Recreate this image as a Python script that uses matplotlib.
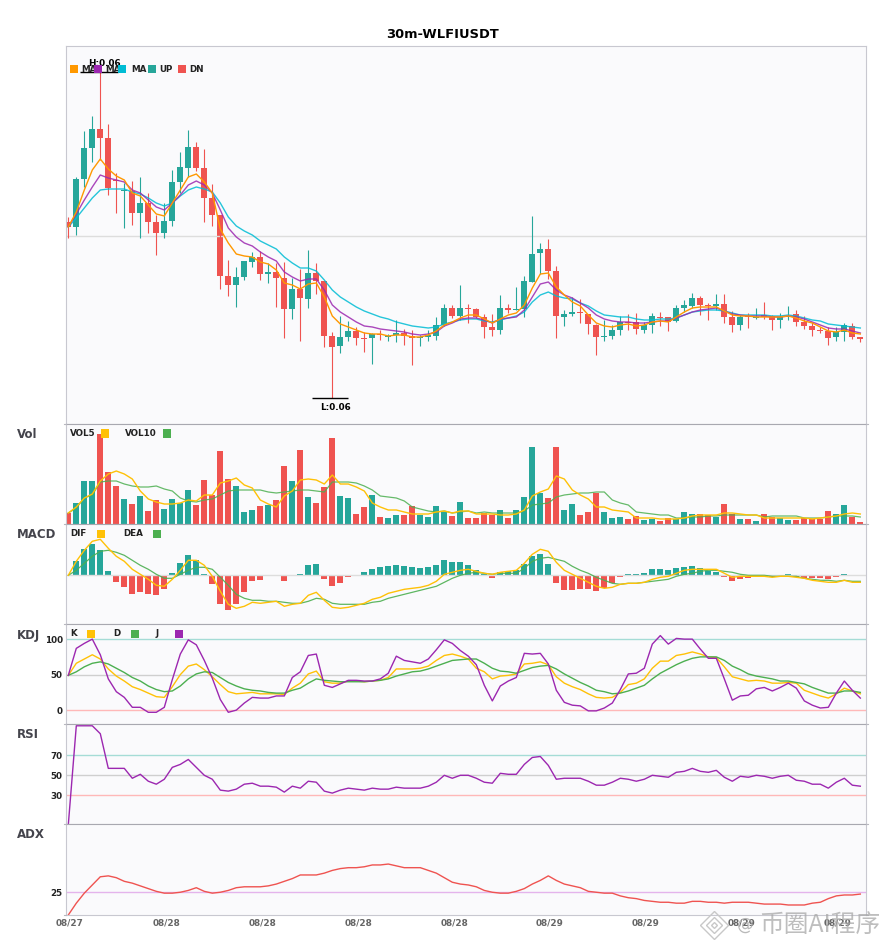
import matplotlib
matplotlib.use('Agg')
import matplotlib.pyplot as plt
from matplotlib.lines import Line2D
from matplotlib.patches import Rectangle
from matplotlib.transforms import ScaledTranslation

# prices are in units of 0.00001
opens = [6014,6009,6057,6088,6107,6098,6056,6045,6045,6023,
         6033,6014,6003,6015,6054,6068,6089,6068,6038,6021,
         5960,5951,5959,5974,5979,5962,5964,5958,5927,5947,
         5937,5963,5955,5900,5890,5899,5905,5898,5898,5902,
         5899,5901,5903,5900,5898,5899,5900,5911,5928,5920,
         5928,5927,5919,5909,5906,5928,5926,5927,5954,5983,
         5987,5965,5919,5922,5924,5922,5911,5899,5900,5906,
         5914,5914,5906,5911,5919,5919,5915,5928,5930,5938,
         5931,5930,5932,5919,5911,5920,5918,5921,5920,5916,
         5919,5922,5914,5910,5906,5905,5899,5904,5910,5899]
closes = [6009,6057,6088,6107,6098,6048,6055,6046,6023,6033,
          6014,6003,6015,6054,6069,6089,6068,6038,6021,5960,
          5951,5959,5975,5979,5962,5964,5958,5927,5947,5938,
          5963,5955,5900,5889,5899,5905,5898,5897,5902,5901,
          5900,5903,5900,5898,5899,5901,5911,5928,5920,5928,
          5927,5919,5909,5906,5928,5926,5927,5955,5982,5987,
          5965,5920,5922,5924,5923,5912,5899,5900,5906,5914,
          5913,5907,5911,5920,5918,5914,5928,5931,5938,5931,
          5930,5932,5919,5911,5919,5919,5919,5919,5916,5919,
          5920,5914,5910,5906,5905,5898,5904,5911,5899,5897]
highs = [6019,6059,6105,6120,6164,6112,6063,6053,6055,6059,
         6043,6021,6033,6066,6084,6106,6094,6087,6052,6021,
         5976,5969,5975,5984,5985,5973,5973,5974,5958,5967,
         5986,5973,5955,5904,5920,5915,5909,5904,5903,5906,
         5902,5916,5907,5906,5901,5906,5919,5932,5931,5951,
         5932,5928,5922,5922,5941,5932,5949,5960,6020,5993,
         5997,5970,5926,5939,5937,5922,5912,5916,5911,5920,
         5922,5923,5914,5923,5924,5919,5931,5936,5943,5940,
         5933,5942,5942,5925,5921,5923,5928,5934,5921,5923,
         5930,5926,5920,5914,5909,5909,5909,5913,5913,5899]
lows = [5998,6001,6049,6074,6076,6041,6023,6008,6011,5998,
        6003,5981,5998,6010,6043,6059,6065,6014,6010,5947,
        5940,5929,5956,5969,5956,5953,5929,5898,5917,5895,
        5928,5942,5889,5838,5883,5895,5891,5884,5872,5896,
        5895,5894,5891,5871,5890,5895,5896,5910,5918,5916,
        5913,5918,5898,5900,5902,5923,5926,5919,5954,5962,
        5957,5898,5910,5920,5913,5902,5881,5895,5897,5901,
        5906,5902,5903,5903,5910,5905,5914,5924,5928,5921,
        5916,5926,5913,5904,5906,5908,5917,5917,5906,5908,
        5916,5910,5907,5900,5903,5891,5895,5895,5897,5894]
ma5 = [6009,6024,6046,6066,6077,6067,6060,6056,6043,6040,
       6031,6022,6020,6033,6046,6059,6062,6054,6043,6007,
       5993,5982,5980,5979,5974,5972,5966,5953,5951,5947,
       5952,5953,5939,5920,5912,5909,5906,5903,5902,5902,
       5900,5901,5901,5899,5899,5901,5905,5911,5914,5918,
       5921,5921,5917,5913,5917,5921,5923,5931,5948,5962,
       5963,5949,5941,5934,5930,5921,5913,5910,5909,5911,
       5912,5910,5911,5914,5915,5914,5919,5924,5928,5929,
       5929,5929,5925,5921,5920,5920,5919,5919,5919,5919,
       5920,5918,5915,5913,5909,5905,5904,5906,5903,5902]
ma10 = [6009,6022,6036,6049,6061,6058,6056,6054,6046,6043,
        6036,6029,6026,6033,6041,6051,6055,6051,6043,6026,
        6008,5999,5993,5990,5984,5979,5975,5964,5959,5955,
        5957,5957,5946,5931,5924,5919,5914,5910,5909,5907,
        5906,5905,5904,5902,5901,5902,5904,5910,5913,5917,
        5918,5918,5916,5913,5917,5918,5919,5926,5939,5952,
        5954,5946,5941,5938,5933,5928,5921,5917,5915,5914,
        5914,5913,5913,5914,5915,5915,5918,5921,5924,5926,
        5927,5928,5925,5922,5921,5920,5920,5920,5919,5919,
        5920,5919,5917,5914,5911,5908,5907,5907,5905,5903]
ma20 = [6009,6018,6028,6038,6046,6047,6047,6047,6044,6042,
        6038,6033,6030,6033,6040,6046,6049,6047,6044,6033,
        6019,6010,6005,6001,5995,5991,5987,5979,5973,5968,
        5968,5965,5956,5946,5939,5934,5929,5925,5922,5919,
        5917,5914,5912,5910,5909,5908,5909,5912,5914,5916,
        5917,5917,5915,5914,5916,5918,5920,5924,5934,5941,
        5944,5940,5938,5937,5933,5930,5925,5921,5920,5919,
        5919,5917,5916,5916,5917,5917,5918,5921,5924,5925,
        5926,5926,5925,5923,5921,5921,5921,5921,5920,5920,
        5921,5920,5918,5916,5915,5912,5911,5910,5909,5908]

volume = [11,21,43,43,90,52,38,25,20,28,
          13,24,15,25,21,34,19,44,29,73,
          45,38,12,14,18,19,24,58,43,74,
          27,21,37,86,28,26,10,17,29,7,
          6,9,9,18,9,7,18,12,8,22,
          6,6,11,9,14,6,14,27,77,31,
          26,77,14,20,9,12,31,12,6,7,
          5,8,4,5,3,6,5,12,10,10,
          9,7,20,10,5,5,3,10,7,6,
          4,4,6,5,5,13,10,19,7,2]
vol5 = [11,17,26,30,43,50,53,50,45,33,
        25,22,20,20,21,24,23,29,29,41,
        43,46,39,36,24,20,17,28,33,44,
        45,44,40,49,40,40,37,33,21,17,
        14,14,12,10,10,10,12,13,11,13,
        13,10,10,10,9,9,10,14,28,32,
        35,48,45,34,29,25,17,17,14,13,
        12,6,6,6,5,5,5,6,8,9,
        9,9,11,11,10,9,9,6,6,6,
        6,6,6,5,6,7,8,10,11,10]
vol10 = [11,16,26,29,42,43,43,40,38,37,
         37,38,35,33,26,23,22,24,25,29,
         33,34,34,34,34,32,31,32,33,34,
         34,33,32,42,42,42,41,38,34,28,
         27,26,23,17,15,13,12,13,11,12,
         13,11,12,11,11,11,11,13,19,20,
         21,27,29,30,31,31,32,32,24,21,
         19,12,11,10,9,9,6,6,7,7,
         8,8,9,9,9,9,9,7,8,8,
         8,8,6,6,6,7,8,8,8,7]

macd_hist = [0,14,26,31,25,4,-7,-12,-19,-17,
             -19,-20,-14,2,12,20,15,1,-9,-29,
             -35,-29,-17,-6,-5,-1,0,-6,-1,1,
             10,11,-4,-11,-8,-2,0,3,6,8,
             9,10,9,8,7,8,10,15,13,13,
             10,5,1,-3,3,4,5,11,19,21,
             11,-8,-15,-15,-14,-14,-16,-13,-8,-2,
             1,1,2,6,6,5,7,8,9,7,
             4,3,-2,-6,-4,-3,0,0,-2,0,
             1,-2,-3,-3,-3,-4,-2,1,0,-1]
dif = [0,14,25,34,36,27,19,14,6,1,
       -4,-10,-11,-4,5,15,15,10,-1,-16,
       -29,-33,-31,-27,-28,-27,-26,-31,-29,-28,
       -20,-17,-25,-32,-33,-32,-30,-28,-24,-22,
       -18,-16,-14,-13,-12,-10,-6,1,3,5,
       6,4,2,1,3,4,5,12,21,26,
       24,13,5,1,-3,-7,-11,-13,-12,-9,
       -8,-8,-7,-4,-2,-1,2,5,6,6,
       6,6,2,-2,-1,-1,-1,-1,-2,-1,
       -1,-2,-3,-5,-6,-7,-7,-5,-7,-7]
dea = [0,5,12,19,24,25,23,20,15,10,
       6,1,-3,-3,1,5,8,8,6,-2,
       -10,-19,-23,-25,-25,-26,-26,-27,-28,-28,
       -26,-23,-24,-28,-29,-29,-29,-29,-27,-26,
       -23,-21,-19,-17,-15,-13,-11,-7,-3,0,
       2,3,2,1,2,2,2,7,14,17,
       18,16,14,9,5,2,-2,-5,-8,-9,
       -8,-8,-7,-6,-5,-4,-1,1,2,4,
       5,5,4,3,1,0,0,0,-1,-1,
       -1,-1,-3,-4,-5,-5,-6,-5,-6,-6]

kdj_k = [49,66,72,78,72,58,48,41,33,29,
         24,19,18,33,50,62,65,57,47,36,
         26,23,24,25,23,23,23,22,31,38,
         51,55,40,38,38,41,41,40,41,42,
         46,58,58,58,59,62,70,77,79,76,
         72,59,54,44,48,49,51,65,66,68,
         64,47,38,33,29,23,18,17,18,25,
         36,38,44,59,69,69,77,79,82,79,
         75,74,61,47,44,41,42,41,38,38,
         39,38,28,24,20,17,23,31,27,23]
kdj_d = [49,54,61,66,68,65,59,53,46,41,
         34,29,26,27,34,44,51,54,53,46,
         39,34,30,28,27,25,24,24,28,31,
         38,44,42,41,40,40,40,40,41,42,
         44,48,51,54,55,58,62,66,70,71,
         72,72,66,59,55,54,52,56,60,62,
         63,58,51,45,39,34,28,26,23,24,
         27,31,35,44,52,58,64,69,73,75,
         75,75,70,62,57,51,48,46,44,41,
         41,39,37,32,28,24,24,27,27,25]
kdj_j = [49,87,94,100,78,44,26,18,4,4,
         -3,-3,4,43,79,99,92,70,45,15,
         -3,0,10,18,17,17,20,20,46,54,
         77,79,35,32,37,42,42,41,41,44,
         52,76,70,68,66,72,85,99,94,84,
         76,64,35,13,34,41,46,80,79,80,
         65,28,11,7,6,-1,-1,3,10,29,
         51,52,59,93,105,93,101,100,100,86,
         73,73,44,14,20,21,30,32,27,32,
         38,31,13,7,3,4,24,41,28,17]
rsi = [0,100,100,100,92,57,57,57,47,51,
       44,41,46,58,61,66,58,50,46,35,
       34,36,41,42,39,39,38,33,39,37,
       44,43,34,32,35,37,36,35,37,36,
       36,38,37,37,37,39,43,50,47,50,
       50,47,43,42,52,51,51,61,68,69,
       60,46,47,47,47,44,40,40,43,47,
       46,44,46,50,49,48,53,54,57,54,
       53,55,48,44,49,48,50,49,47,49,
       50,45,44,41,41,37,43,47,40,39]
adx = [0,13,24,33,42,43,41,37,35,32,
       29,26,24,24,25,27,30,26,24,25,
       27,30,31,31,31,32,34,37,40,44,
       44,44,46,49,51,52,52,53,55,55,
       56,54,52,52,52,49,46,41,36,34,
       33,31,27,25,24,24,26,29,34,38,
       43,38,34,32,30,26,25,24,24,21,
       19,18,16,15,14,14,13,13,15,15,
       14,14,13,14,14,14,13,12,12,12,
       11,11,11,13,14,18,21,22,22,23]

tick_idx = [0,12,24,36,48,60,72,84,96]
tick_labels = ['08/27','08/28','08/28','08/28','08/28','08/29','08/29','08/29','08/29']

UP = '#26a69a'
DN = '#ef5350'
W, H = 885, 950
LEFT, RIGHT = 65.5, 866


def fx(x):
    return x / W


def fy(y):
    return 1 - y / H


def make_axes(fig, top, bottom, ylim):
    ax = fig.add_axes([fx(LEFT), fy(bottom), fx(RIGHT - LEFT), (bottom - top) / H])
    ax.set_facecolor('#fafafc')
    ax.set_xlim(-0.35, 99.71)
    ax.set_ylim(*ylim)
    ax.set_xticks([])
    ax.set_yticks([])
    for side in ['left', 'right', 'bottom']:
        ax.spines[side].set_color('#c8c8d0')
    ax.spines['top'].set_color('#a8a8b0')
    #small nubs where the panels meet
    for nub in [(LEFT - 1.5, LEFT), (RIGHT, RIGHT + 2)]:
        fig.add_artist(Line2D([fx(nub[0]), fx(nub[1])], [fy(bottom), fy(bottom)], color='#b8b8c0', lw=0.8))
    return ax


def yticks(ax, values):
    ax.set_yticks(values)
    ax.tick_params(axis='y', length=0, pad=2)
    for label in ax.get_yticklabels():
        label.set_fontsize(6.3)
        label.set_fontweight('bold')
        label.set_color('#222222')


def legend(fig, items, y):
    # items are (text, text x, square x, colour) in figure pixels
    for text, tx, sx, color in items:
        if text:
            fig.text(fx(tx), fy(y), text, fontsize=6.3, fontweight='bold', color='#222222', va='center')
        fig.add_artist(Rectangle((fx(sx), fy(y + 4)), 8 / W, 8 / H, transform=fig.transFigure,
                                 color=color, lw=0, zorder=5))


def main():
    x = list(range(len(closes)))
    colors = [UP if c >= o else DN for o, c in zip(opens, closes)]
    fig = plt.figure(figsize=(W / 100, H / 100), dpi=100)
    fig.text(0.5, fy(35), '30m-WLFIUSDT', ha='center', va='center', fontsize=9.4, fontweight='bold')

    #candles and moving averages
    ax = make_axes(fig, 45.5, 424, (5812, 6190.5))
    ax.spines['top'].set_color('#c8c8d0')
    ax.axhline(6000, color='#dddddd', lw=1)
    ax.vlines(x, lows, highs, colors=colors, lw=0.8)
    ax.bar(x, [max(abs(c - o), 1) for o, c in zip(opens, closes)], bottom=[min(o, c) for o, c in zip(opens, closes)],
           width=0.75, color=colors)
    ax.plot(x, ma20, color='#00bcd4', lw=1.0, alpha=0.85)
    ax.plot(x, ma10, color='#9c27b0', lw=1.0, alpha=0.85)
    ax.plot(x, ma5, color='#ff9800', lw=1.0)
    hi_i = highs.index(max(highs))
    lo_i = lows.index(min(lows))
    ax.hlines(highs[hi_i], hi_i - 2.5, hi_i + 2.2, color='black', lw=1)
    ax.hlines(lows[lo_i], lo_i - 2.5, lo_i + 2, color='black', lw=1)
    ax.annotate('H:%.2f' % (highs[hi_i] / 1e5), (hi_i, highs[hi_i]), xytext=(4, 8), textcoords='offset pixels',
                ha='center', va='center', fontsize=6.4, fontweight='bold')
    ax.annotate('L:%.2f' % (lows[lo_i] / 1e5), (lo_i, lows[lo_i]), xytext=(3, -9), textcoords='offset pixels',
                ha='center', va='center', fontsize=6.4, fontweight='bold')
    legend(fig, [('MA', 81, 70, '#ff9800'), ('MA', 105, 94, '#9c27b0'), ('MA', 131, 118, '#00bcd4'),
                 ('UP', 159, 148, UP), ('DN', 189, 178, DN)], 69)

    #volume
    ax = make_axes(fig, 424, 524, (0, 100))
    ax.bar(x, volume, width=0.75, color=colors)
    ax.plot(x, vol10, color='#4caf50', lw=0.9, alpha=0.85)
    ax.plot(x, vol5, color='#ffc107', lw=1.0)
    legend(fig, [('VOL5', 70, 101, '#ffc107'), ('VOL10', 125, 163, '#4caf50')], 433.5)

    #macd
    ax = make_axes(fig, 524, 624, (-48.7, 51.3))
    ax.axhline(0, color='#dddddd', lw=1)
    ax.bar(x, macd_hist, width=0.75, color=[UP if v >= 0 else DN for v in macd_hist])
    ax.plot(x, dea, color='#4caf50', lw=0.9, alpha=0.9)
    ax.plot(x, dif, color='#ffc107', lw=1.0)
    legend(fig, [('DIF', 70, 97, '#ffc107'), ('DEA', 123, 153, '#4caf50')], 533.5)

    #kdj
    ax = make_axes(fig, 624, 724, (-19.5, 121.3))
    ax.axhline(100, color='#a5dcd6', lw=1)
    ax.axhline(50, color='#cfcfcf', lw=1)
    ax.axhline(0, color='#ffb8b8', lw=1)
    ax.plot(x, kdj_k, color='#ffc107', lw=1.0)
    ax.plot(x, kdj_d, color='#4caf50', lw=1.0)
    ax.plot(x, kdj_j, color='#9c27b0', lw=1.0)
    yticks(ax, [0, 50, 100])
    legend(fig, [('K', 70, 87, '#ffc107'), ('D', 113, 131, '#4caf50'), ('J', 156, 175, '#9c27b0')], 633.5)

    #rsi
    ax = make_axes(fig, 724, 824, (0.8, 101.8))
    ax.axhline(70, color='#a5dcd6', lw=1)
    ax.axhline(50, color='#cfcfcf', lw=1)
    ax.axhline(30, color='#ffb8b8', lw=1)
    ax.plot(x, rsi, color='#9c27b0', lw=1.0)
    yticks(ax, [30, 50, 70])

    #adx
    ax = make_axes(fig, 824, 915, (0, 100))
    ax.axhline(25, color='#e4b4ec', lw=1)
    ax.plot(x, adx, color='#ef5350', lw=1.0)
    yticks(ax, [25])
    ax.set_xticks(tick_idx)
    ax.set_xticklabels(tick_labels, fontsize=6.4, fontweight='bold', color='#666666')
    ax.tick_params(axis='x', length=0, pad=2.5)
    shift = ScaledTranslation(1.7 / 100, 0, fig.dpi_scale_trans)
    for label in ax.get_xticklabels():
        label.set_transform(label.get_transform() + shift)

    #panel names on the left
    for name, y in [('Vol', 435), ('MACD', 535), ('KDJ', 635), ('RSI', 735), ('ADX', 835)]:
        fig.text(fx(17), fy(y), name, fontsize=8.5, fontweight='bold', color='#44444c', va='center')

    #watermark
    for size, width in [(14, 1.0), (8, 1.0), (3, 1.0)]:
        fig.add_artist(Line2D([fx(714)], [fy(925)], marker='D', ms=size, mfc='none', mec='#c8c8c8', mew=width,
                              transform=fig.transFigure, zorder=6))
    fig.text(fx(737), fy(925), '@', fontsize=12, color='#a8a8a8', alpha=0.8, va='center', zorder=6)
    fig.text(fx(759), fy(925), '币圈AI程序', fontsize=17.8, color='#a8a8a8', alpha=0.75, va='center', zorder=6,
             family=['Noto Sans CJK SC', 'DejaVu Sans'])

    fig.savefig('out.png', dpi=100)


if __name__ == "__main__":
    main()
